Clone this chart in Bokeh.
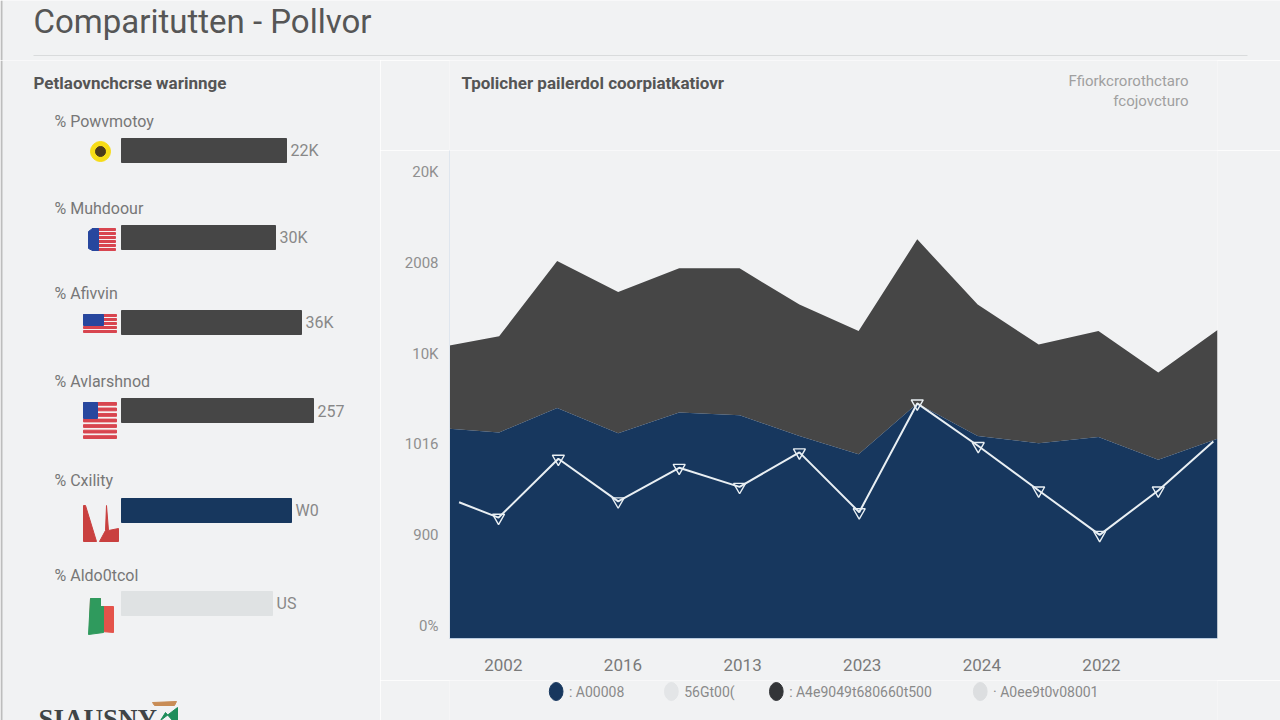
from bokeh.core.properties import value
from bokeh.embed import file_html
from bokeh.layouts import column, row
from bokeh.models import FixedTicker, Range1d
from bokeh.plotting import figure
from bokeh.resources import INLINE

# ---------- data ----------
main_title = "Comparitutten - Pollvor"
left_title = "Petlaovnchcrse warinnge"
right_title = "Tpolicher pailerdol coorpiatkatiovr"
note_lines = ["Ffiorkcrorothctaro", "fcojovcturo"]

bar_names = ["% Powvmotoy", "% Muhdoour", "% Afivvin", "% Avlarshnod", "% Cxility", "% Aldo0tcol"]
bar_values = [33.0, 30.8, 36.0, 38.4, 34.0, 30.2]
bar_value_labels = ["22K", "30K", "36K", "257", "W0", "US"]
bar_colors = ["#464646", "#464646", "#464646", "#464646", "#17375e", "#dfe2e3"]

periods = [-0.9, -0.07, 0.9, 1.92, 2.94, 3.95, 4.95, 5.94, 6.92, 7.93, 8.95, 9.95, 10.95, 11.94]
upper_series = [30.9, 31.9, 40.2, 36.8, 39.4, 39.4, 35.4, 32.5, 42.6, 35.4, 31.0, 32.5, 27.9, 32.6]
lower_series = [21.7, 21.3, 24.0, 21.2, 23.5, 23.2, 20.9, 18.9, 24.5, 20.9, 20.1, 20.8, 18.3, 20.6]
line_periods = [-0.74, -0.08, 0.92, 1.92, 2.94, 3.95, 4.95, 5.95, 6.92, 7.94, 8.95, 9.97, 10.95, 11.87]
line_series = [13.6, 11.9, 18.4, 13.7, 17.4, 15.3, 19.1, 12.5, 24.5, 19.8, 14.9, 10.0, 14.9, 20.3]

x_ticks = [0, 2, 4, 6, 8, 10]
x_tick_labels = ["2002", "2016", "2013", "2023", "2024", "2022"]
y_ticks = [0, 10, 20, 30, 40, 50]
y_tick_labels = ["0%", "900", "1016", "10K", "2008", "20K"]

legend_labels = [": A00008", "56Gt00(", ": A4e9049t680660t500", "\u00b7 A0ee9t0v08001"]
legend_colors = ["#17375e", "#e3e5e7", "#333538", "#dcdee0"]
footer_label = "SIAUSNY"

# ---------- layout constants (page pixels) ----------
BG = "#f1f2f3"
FONT = value("Roboto")
bar_rows = [150, 237, 322, 410, 510, 603]
label_rows = [121, 208, 293, 381, 480, 575]
legend_marks = [505, 640, 763, 1002]
legend_texts = [520, 655, 778, 1017]


def blank(width, height, xr, yr, **kw):
    f = figure(width=width, height=height, x_range=xr, y_range=yr,
               output_backend="svg", toolbar_location=None, min_border=0,
               background_fill_color=BG, border_fill_color=BG, outline_line_color=None, **kw)
    f.axis.visible = False
    f.grid.visible = False
    return f


# ---------- header ----------
header = blank(1280, 60, Range1d(0, 1280), Range1d(60, 0))
header.segment([1], [0], [1], [60], line_color="#bdbdbd", line_width=2)
header.text([33], [21], [main_title], text_font=FONT, text_font_size="33px", text_color="#565656",
            text_baseline="middle")
header.segment([33], [55], [1247], [55], line_color="#d9dbdc", line_width=1.2)

# ---------- left panel ----------
left = blank(380, 660, Range1d(0, 380), Range1d(720, 60))
left.extra_x_ranges["value"] = Range1d((0 - 121) / 5, (380 - 121) / 5)
left.segment([1], [60], [1], [720], line_color="#bdbdbd", line_width=2)
left.text([33], [82], [left_title], text_font=FONT, text_font_size="17px", text_color="#555555",
          text_font_style="bold", text_baseline="middle")
left.text([54] * 6, label_rows, bar_names, text_font=FONT, text_font_size="16px", text_color="#777777",
          text_baseline="middle")
left.hbar(y=bar_rows, left=0, right=bar_values, height=24, color=bar_colors, x_range_name="value")
left.text(bar_values, bar_rows, bar_value_labels, x_range_name="value", x_offset=4, text_font=FONT,
          text_font_size="16px", text_color="#888888", text_baseline="middle")

RED, WHITE, BLUE = "#d8454f", "#f6f1f1", "#27479e"
# badge
left.circle([100], [151], radius=10, color="#f7dc16")
left.circle([100], [151], radius=5, color="#4b3a1c")
# striped flags: (x0, x1, y0, y1, canton x1, canton y1, stripes)
for x0, x1, y0, y1, cx, cy, n in [(92, 115, 228, 250, 98, 250, 6), (83, 116, 314, 332, 103, 325, 5),
                                  (83, 116, 402, 438, 97, 418, 7)]:
    h = (y1 - y0) / (2 * n - 1)
    left.quad(left=x0, right=x1, top=y0, bottom=y1, color=WHITE)
    left.quad(left=[x0] * n, right=[x1] * n, top=[y0 + 2 * i * h for i in range(n)],
              bottom=[y0 + (2 * i + 1) * h for i in range(n)], color=RED)
    left.quad(left=x0, right=cx, top=y0, bottom=cy, color=BLUE)
left.patch([88, 92, 92, 88], [231, 228, 250, 248], color=BLUE)
# red shape
left.patch([83, 85, 96, 83], [505, 505, 541, 541], color="#c9403f")
left.patch([99, 105, 106, 108, 118, 118, 99], [541, 530, 505, 530, 528, 541, 541], color="#c9403f")
# green / red flag
left.patch([90, 100, 100, 113, 113, 89], [598, 598, 606, 606, 632, 630], color="#e4534a")
left.patch([90, 100, 100, 103, 103, 88], [598, 598, 606, 606, 632, 634], color="#2f9a5d")
# footer mark
left.text([38], [703], [footer_label], text_font=value("Liberation Sans Narrow"), text_font_size="27px",
          text_font_style="bold", text_color="#3f4446", text_baseline="top")
left.patch([152, 176, 174, 154], [702, 701, 705, 705], color="#c88c55")
left.patch([160, 177, 177, 172, 165], [720, 707, 720, 720, 712], color="#1e8d5a")

# ---------- right panel ----------
strip = blank(900, 90, Range1d(380, 1280), Range1d(150, 60))
strip.text([394], [82], [right_title], text_font=FONT, text_font_size="17px", text_color="#555555",
           text_font_style="bold", text_baseline="middle")
strip.text([1246, 1246], [80, 100], note_lines, text_font=FONT, text_font_size="15px", text_color="#a0a0a0",
           text_align="right", text_baseline="middle")

floor = -1.43
chart = figure(width=900, height=530, x_range=Range1d(periods[0], periods[-1]), y_range=Range1d(floor, 52.4),
               output_backend="svg", toolbar_location=None, min_border=0, min_border_left=69,
               min_border_right=63, min_border_top=0, min_border_bottom=42,
               background_fill_color=BG, border_fill_color=BG, outline_line_color=None)
chart.grid.visible = False
chart.varea(periods, y1=lower_series, y2=upper_series, color="#464646")
chart.varea(periods, y1=[floor] * len(periods), y2=lower_series, color="#17375e")
chart.line(line_periods, line_series, line_color="#e9eff3", line_width=2)
chart.scatter(line_periods[1:-1], line_series[1:-1], marker="inverted_triangle", size=12,
              fill_color=None, line_color="#e9eff3", line_width=1.4)
chart.xaxis.ticker = FixedTicker(ticks=x_ticks)
chart.xaxis.major_label_overrides = dict(zip(x_ticks, x_tick_labels))
chart.yaxis.ticker = FixedTicker(ticks=y_ticks)
chart.yaxis.major_label_overrides = dict(zip(y_ticks, y_tick_labels))
for ax, size, color in [(chart.xaxis, "17px", "#7a7a7a"), (chart.yaxis, "15px", "#8f8f8f")]:
    ax.major_label_text_font = "Roboto"
    ax.major_label_text_font_size = size
    ax.major_label_text_color = color
    ax.major_tick_line_color = None
    ax.minor_tick_line_color = None
chart.xaxis.axis_line_color = "#b9cbe0"
chart.yaxis.axis_line_color = "#dfe6ee"
chart.xaxis.major_label_standoff = 14
chart.yaxis.major_label_standoff = 5

legend = blank(900, 40, Range1d(380, 1280), Range1d(720, 680))
legend.ellipse(legend_marks, [691] * 4, width=16, height=18, color=legend_colors)
legend.text(legend_texts, [691] * 4, legend_labels, text_font=FONT, text_font_size="14px",
            text_color="#8a8a8a", text_baseline="middle")

page = column(header, row(left, column(strip, chart, legend, spacing=0), spacing=0), spacing=0)

open("out.html", "w").write(file_html(page, INLINE))
